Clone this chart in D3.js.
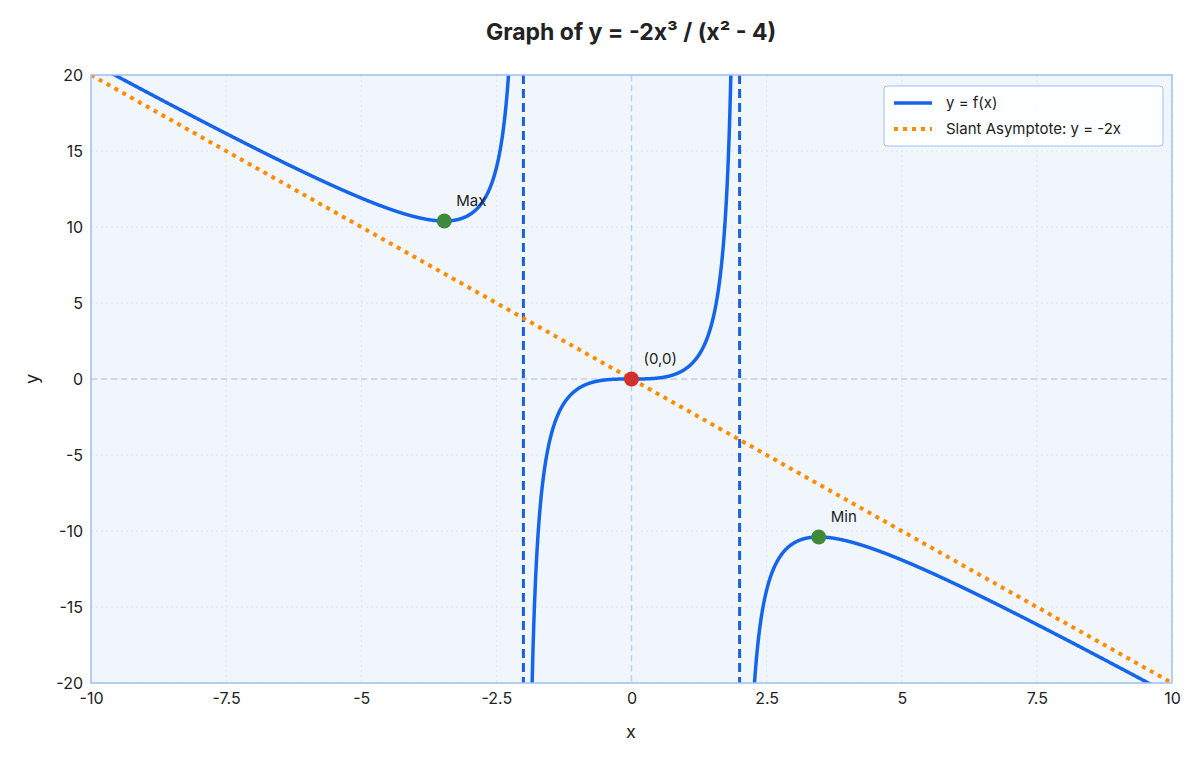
<!DOCTYPE html>
<html><head><meta charset="utf-8">
<script src="https://cdn.jsdelivr.net/npm/d3@7"></script>
<style>body{margin:0;background:#fff;font-family:Inter,"Noto Sans",sans-serif}</style>
</head><body><svg id="c" width="1200" height="760"></svg>
<script>
'use strict';

var xTicks = [-10, -7.5, -5, -2.5, 0, 2.5, 5, 7.5, 10];
var yTicks = [-20, -15, -10, -5, 0, 5, 10, 15, 20];
var asymptotesX = [-2, 2];
var extrema = [
  {x: -3.464, y: 10.392, label: 'Max', color: '#3f8a3a'},
  {x: 3.464, y: -10.392, label: 'Min', color: '#3f8a3a'}
];
var origin = [{x: 0, y: 0, label: '(0,0)', color: '#d32f2f'}];

function f(x) { return -2 * x * x * x / (x * x - 4); }

var svg = d3.select('#c');
var m = {l: 91, r: 1172, t: 75, b: 683};
var x = d3.scaleLinear().domain([-10, 10]).range([m.l, m.r]);
var y = d3.scaleLinear().domain([-20, 20]).range([m.b, m.t]);
var fmt = function (d) { return String(d); };

svg.append('text').attr('x', 631).attr('y', 40).attr('text-anchor', 'middle')
  .style('font-size', '23px').style('font-weight', 'bold').attr('fill', '#222')
  .text('Graph of y = -2x³ / (x² - 4)');

svg.append('rect').attr('x', m.l).attr('y', m.t).attr('width', m.r - m.l).attr('height', m.b - m.t)
  .attr('fill', '#f1f6fd');

var grid = svg.append('g');
grid.selectAll('.gx').data(xTicks).enter().append('line')
  .attr('x1', x).attr('x2', x).attr('y1', m.t).attr('y2', m.b)
  .attr('stroke', '#dde6f0').attr('stroke-dasharray', '2,3');
grid.selectAll('.gy').data(yTicks).enter().append('line')
  .attr('y1', y).attr('y2', y).attr('x1', m.l).attr('x2', m.r)
  .attr('stroke', '#dde6f0').attr('stroke-dasharray', '2,3');

svg.append('line').attr('x1', m.l).attr('x2', m.r).attr('y1', y(0)).attr('y2', y(0))
  .attr('stroke', '#b8d2f3').attr('stroke-width', 1.5).attr('stroke-dasharray', '6,4');
svg.append('line').attr('y1', m.t).attr('y2', m.b).attr('x1', x(0)).attr('x2', x(0))
  .attr('stroke', '#b8d2f3').attr('stroke-width', 1.5).attr('stroke-dasharray', '6,4');

svg.append('clipPath').attr('id', 'pc').append('rect')
  .attr('x', m.l).attr('y', m.t).attr('width', m.r - m.l).attr('height', m.b - m.t);
var plot = svg.append('g').attr('clip-path', 'url(#pc)');

plot.selectAll('.va').data(asymptotesX).enter().append('line')
  .attr('x1', x).attr('x2', x).attr('y1', m.t).attr('y2', m.b)
  .attr('stroke', '#1a5fe0').attr('stroke-width', 3).attr('stroke-dasharray', '9,5');

plot.append('line').attr('x1', x(-10)).attr('y1', y(20)).attr('x2', x(10)).attr('y2', y(-20))
  .attr('stroke', '#ff8c00').attr('stroke-width', 4).attr('stroke-dasharray', '4,5');

var segs = [[-10, -2.001], [-1.999, 1.999], [2.001, 10]];
var line = d3.line().x(function (d) { return x(d[0]); })
  .y(function (d) { return y(Math.max(-60, Math.min(60, d[1]))); });
segs.forEach(function (s) {
  var pts = d3.range(0, 1001).map(function (i) {
    var xv = s[0] + (s[1] - s[0]) * i / 1000; return [xv, f(xv)];
  });
  plot.append('path').datum(pts).attr('d', line).attr('fill', 'none')
    .attr('stroke', '#1565ec').attr('stroke-width', 3.5);
});

extrema.concat(origin).forEach(function (p) {
  svg.append('circle').attr('cx', x(p.x)).attr('cy', y(p.y)).attr('r', 7.5).attr('fill', p.color);
  svg.append('text').attr('x', x(p.x) + 12).attr('y', y(p.y) - 15)
    .style('font-size', '15px').attr('fill', '#222').text(p.label);
});

svg.append('rect').attr('x', m.l).attr('y', m.t).attr('width', m.r - m.l).attr('height', m.b - m.t)
  .attr('fill', 'none').attr('stroke', '#9dc0f2').attr('stroke-width', 1.5);

var ax = svg.append('g').attr('transform', 'translate(0,' + m.b + ')')
  .call(d3.axisBottom(x).tickValues(xTicks).tickSize(0).tickPadding(10).tickFormat(fmt));
var ay = svg.append('g').attr('transform', 'translate(' + m.l + ',0)')
  .call(d3.axisLeft(y).tickValues(yTicks).tickSize(0).tickPadding(8).tickFormat(fmt));
[ax, ay].forEach(function (a) {
  a.select('.domain').remove();
  a.selectAll('text').style('font-size', '16px').attr('fill', '#222').style('font-family', 'Inter,sans-serif');
});

svg.append('text').attr('x', 631).attr('y', 738).attr('text-anchor', 'middle')
  .style('font-size', '18px').attr('fill', '#222').text('x');
svg.append('text').attr('transform', 'translate(38,379) rotate(-90)').attr('text-anchor', 'middle')
  .style('font-size', '18px').attr('fill', '#222').text('y');

var lg = svg.append('g').attr('transform', 'translate(884,86)');
lg.append('rect').attr('width', 279).attr('height', 60).attr('rx', 3)
  .attr('fill', '#fff').attr('fill-opacity', 0.85).attr('stroke', '#9dc0f2');
lg.append('line').attr('x1', 10).attr('x2', 48).attr('y1', 17).attr('y2', 17)
  .attr('stroke', '#1565ec').attr('stroke-width', 3.5);
lg.append('line').attr('x1', 10).attr('x2', 48).attr('y1', 43).attr('y2', 43)
  .attr('stroke', '#ff8c00').attr('stroke-width', 4).attr('stroke-dasharray', '4,5');
lg.append('text').attr('x', 62).attr('y', 22).style('font-size', '15px').attr('fill', '#222').text('y = f(x)');
lg.append('text').attr('x', 62).attr('y', 48).style('font-size', '15px').attr('fill', '#222').text('Slant Asymptote: y = -2x');
</script></body></html>
